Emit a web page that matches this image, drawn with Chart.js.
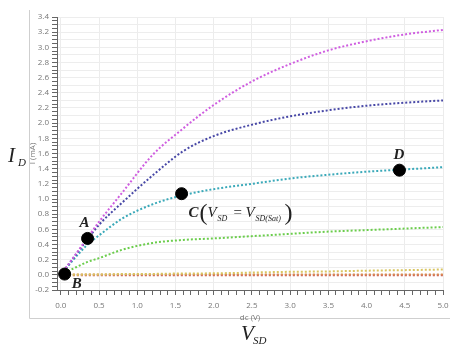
<!DOCTYPE html>
<html>
<head>
<meta charset="utf-8">
<script src="https://cdn.jsdelivr.net/npm/chart.js@4/dist/chart.umd.min.js"></script>
<style>
	html, body { margin: 0; padding: 0; background: #fff; }
	#wrap { width: 474px; height: 353px; position: relative; }
</style>
</head>
<body>
<div id="wrap"><canvas id="chart-id-vsd"></canvas></div>
<script>
// V_SD sweep (V)
const VSD = [0, 0.2, 0.35, 0.5, 0.8, 1.2, 1.6, 2.0, 2.5, 3.0, 3.5, 4.0, 4.5, 5.0];

// I_D (mA) per gate curve
const ID_MAGENTA = [0, 0.28, 0.49, 0.70, 1.08, 1.58, 1.93, 2.24, 2.55, 2.78, 2.96, 3.08, 3.17, 3.23];
const ID_BLUE = [0, 0.27, 0.47, 0.66, 0.95, 1.31, 1.63, 1.83, 1.98, 2.09, 2.17, 2.23, 2.27, 2.30];
const ID_TEAL = [0, 0.24, 0.40, 0.52, 0.74, 0.93, 1.05, 1.13, 1.20, 1.27, 1.32, 1.36, 1.39, 1.42];
const ID_GREEN = [0, 0.10, 0.17, 0.22, 0.33, 0.42, 0.46, 0.48, 0.51, 0.54, 0.57, 0.59, 0.61, 0.63];
const ID_YELLOW = [0, 0, 0.005, 0.005, 0.01, 0.012, 0.018, 0.02, 0.03, 0.04, 0.045, 0.055, 0.062, 0.07];
const ID_ORANGE = [0.006, 0.006, 0.006, 0.006, 0.006, 0.006, 0.006, 0.006, 0.006, 0.006, 0.006, 0.006, 0.006, 0.006];
const ID_RED = [-0.006, -0.006, -0.006, -0.006, -0.006, -0.006, -0.006, -0.006, -0.006, -0.006, -0.006, -0.006, -0.006, -0.006];

// marked operating points A, B, C, D
const MARK_NAMES = ["A", "B", "C", "D"];
const MARK_X = [0.35, 0.05, 1.58, 4.43];
const MARK_Y = [0.48, 0.01, 1.07, 1.38];

// axis ranges
const X_MIN = -0.05, X_MAX = 5.0;
const Y_MIN = -0.2, Y_MAX = 3.4;

const pts = (ys) => VSD.map((x, i) => ({ x: x, y: ys[i] }));
const isMult = (v, step) => Math.abs(Math.round(v * 100) % Math.round(step * 100)) === 0;

const curve = (data, color) => ({
	type: "line",
	data: pts(data),
	borderColor: color,
	borderWidth: 2,
	borderDash: [2, 2],
	pointRadius: 0,
	cubicInterpolationMode: "monotone",
	fill: false,
	order: 2,
});

const FRAME = {
	id: "frame",
	beforeDraw(chart) {
		const ctx = chart.ctx;
		ctx.save();
		ctx.strokeStyle = "#cfcfcf";
		ctx.lineWidth = 1;
		ctx.beginPath();
		ctx.moveTo(29.5, 10);
		ctx.lineTo(29.5, 318.5);
		ctx.lineTo(450, 318.5);
		ctx.stroke();
		ctx.restore();
	},
};

const ANNOTATIONS = {
	id: "annotations",
	afterDraw(chart) {
		const ctx = chart.ctx;
		const xs = chart.scales.x, ys = chart.scales.y;
		const serif = "'Liberation Serif', 'DejaVu Serif', serif";
		ctx.save();
		ctx.fillStyle = "#222";
		ctx.textBaseline = "alphabetic";

		// big axis symbols
		ctx.font = "italic 21px " + serif;
		ctx.fillText("I", 8, 162);
		ctx.font = "italic 11px " + serif;
		ctx.fillText("D", 18, 166);
		ctx.font = "italic 21px " + serif;
		ctx.fillText("V", 241, 340);
		ctx.font = "italic 11px " + serif;
		ctx.fillText("SD", 253, 344);

		// point labels
		const px = (i) => xs.getPixelForValue(MARK_X[i]);
		const py = (i) => ys.getPixelForValue(MARK_Y[i]);
		ctx.font = "italic bold 15px " + serif;
		ctx.fillText(MARK_NAMES[0], px(0) - 8, py(0) - 11);
		ctx.fillText(MARK_NAMES[1], px(1) + 7, py(1) + 14);
		ctx.fillText(MARK_NAMES[3], px(3) - 6, py(3) - 11);

		// C(V_SD = V_SD(Sat))
		let x = px(2) + 7, y = py(2) + 23;
		ctx.fillText(MARK_NAMES[2], x, y);
		ctx.font = "24px " + serif;
		ctx.fillText("(", x + 11, y + 3);
		ctx.font = "italic 15px " + serif;
		ctx.fillText("V", x + 19, y);
		ctx.font = "italic 8px " + serif;
		ctx.fillText("SD", x + 29, y + 4);
		ctx.font = "15px " + serif;
		ctx.fillText("=", x + 45, y);
		ctx.font = "italic 15px " + serif;
		ctx.fillText("V", x + 57, y);
		ctx.font = "italic 8px " + serif;
		ctx.fillText("SD(Sat)", x + 67, y + 4);
		ctx.font = "24px " + serif;
		ctx.fillText(")", x + 96, y + 3);
		ctx.restore();
	},
};

const CHART_DATA = {
	datasets: [
		{
			type: "scatter",
			data: MARK_X.map((x, i) => ({ x: x, y: MARK_Y[i] })),
			backgroundColor: "#000",
			borderColor: "#000",
			pointRadius: 6,
			order: 0,
		},
		curve(ID_MAGENTA, "#cf5ee0"),
		curve(ID_BLUE, "#4747a6"),
		curve(ID_TEAL, "#3aa9b9"),
		curve(ID_GREEN, "#6bcd4c"),
		curve(ID_YELLOW, "#d9c560"),
		curve(ID_ORANGE, "#dc8a4e"),
		curve(ID_RED, "#c4575a"),
	],
};

const TICK_FONT = { family: "'Open Sans', 'DejaVu Sans', sans-serif", size: 8 };

const CHART_CONFIG = {
	type: "line",
	data: CHART_DATA,
	options: {
		responsive: true,
		maintainAspectRatio: false,
		animation: false,
		layout: {
			padding: { left: 0, right: 31, top: 17, bottom: 0 },
		},
		plugins: {
			legend: { display: false },
			title: { display: false },
			tooltip: { enabled: false },
		},
		scales: {
			x: {
				type: "linear",
				min: X_MIN,
				max: X_MAX,
				afterFit: (s) => { s.height = 63; },
				afterBuildTicks: (s) => {
					const t = [];
					for (let i = 0; i <= 50; i++) t.push({ value: i / 10 });
					s.ticks = t;
				},
				border: { display: true, color: "#666" },
				grid: {
					color: (c) => (c.tick && isMult(c.tick.value, 0.5) ? "#ececec" : "rgba(0,0,0,0)"),
					tickColor: "#666",
					tickLength: 5,
				},
				ticks: {
					font: TICK_FONT,
					color: "#777",
					autoSkip: false,
					maxRotation: 0,
					padding: 6,
					callback: (v) => (isMult(v, 0.5) ? v.toFixed(1) : ""),
				},
				title: {
					display: true,
					text: "dc (V)",
					font: TICK_FONT,
					color: "#777",
					padding: { top: 0, bottom: 30 },
				},
			},
			y: {
				min: Y_MIN,
				max: Y_MAX,
				afterFit: (s) => { s.width = 57; },
				afterBuildTicks: (s) => {
					const t = [];
					for (let i = -4; i <= 68; i++) t.push({ value: i / 20 });
					s.ticks = t;
				},
				border: { display: true, color: "#666" },
				grid: {
					color: (c) => (c.tick && isMult(c.tick.value, 0.1) ? "#ededed" : "rgba(0,0,0,0)"),
					tickColor: "#666",
					tickLength: 5,
				},
				ticks: {
					font: TICK_FONT,
					color: "#777",
					autoSkip: false,
					padding: 3,
					callback: (v) => (isMult(v, 0.2) ? v.toFixed(1) : ""),
				},
				title: {
					display: true,
					text: "I (mA)",
					font: TICK_FONT,
					color: "#777",
					padding: { top: 28, bottom: 0 },
				},
			},
		},
	},
	plugins: [FRAME, ANNOTATIONS],
};

new Chart(document.getElementById("chart-id-vsd"), CHART_CONFIG);
</script>
</body>
</html>
